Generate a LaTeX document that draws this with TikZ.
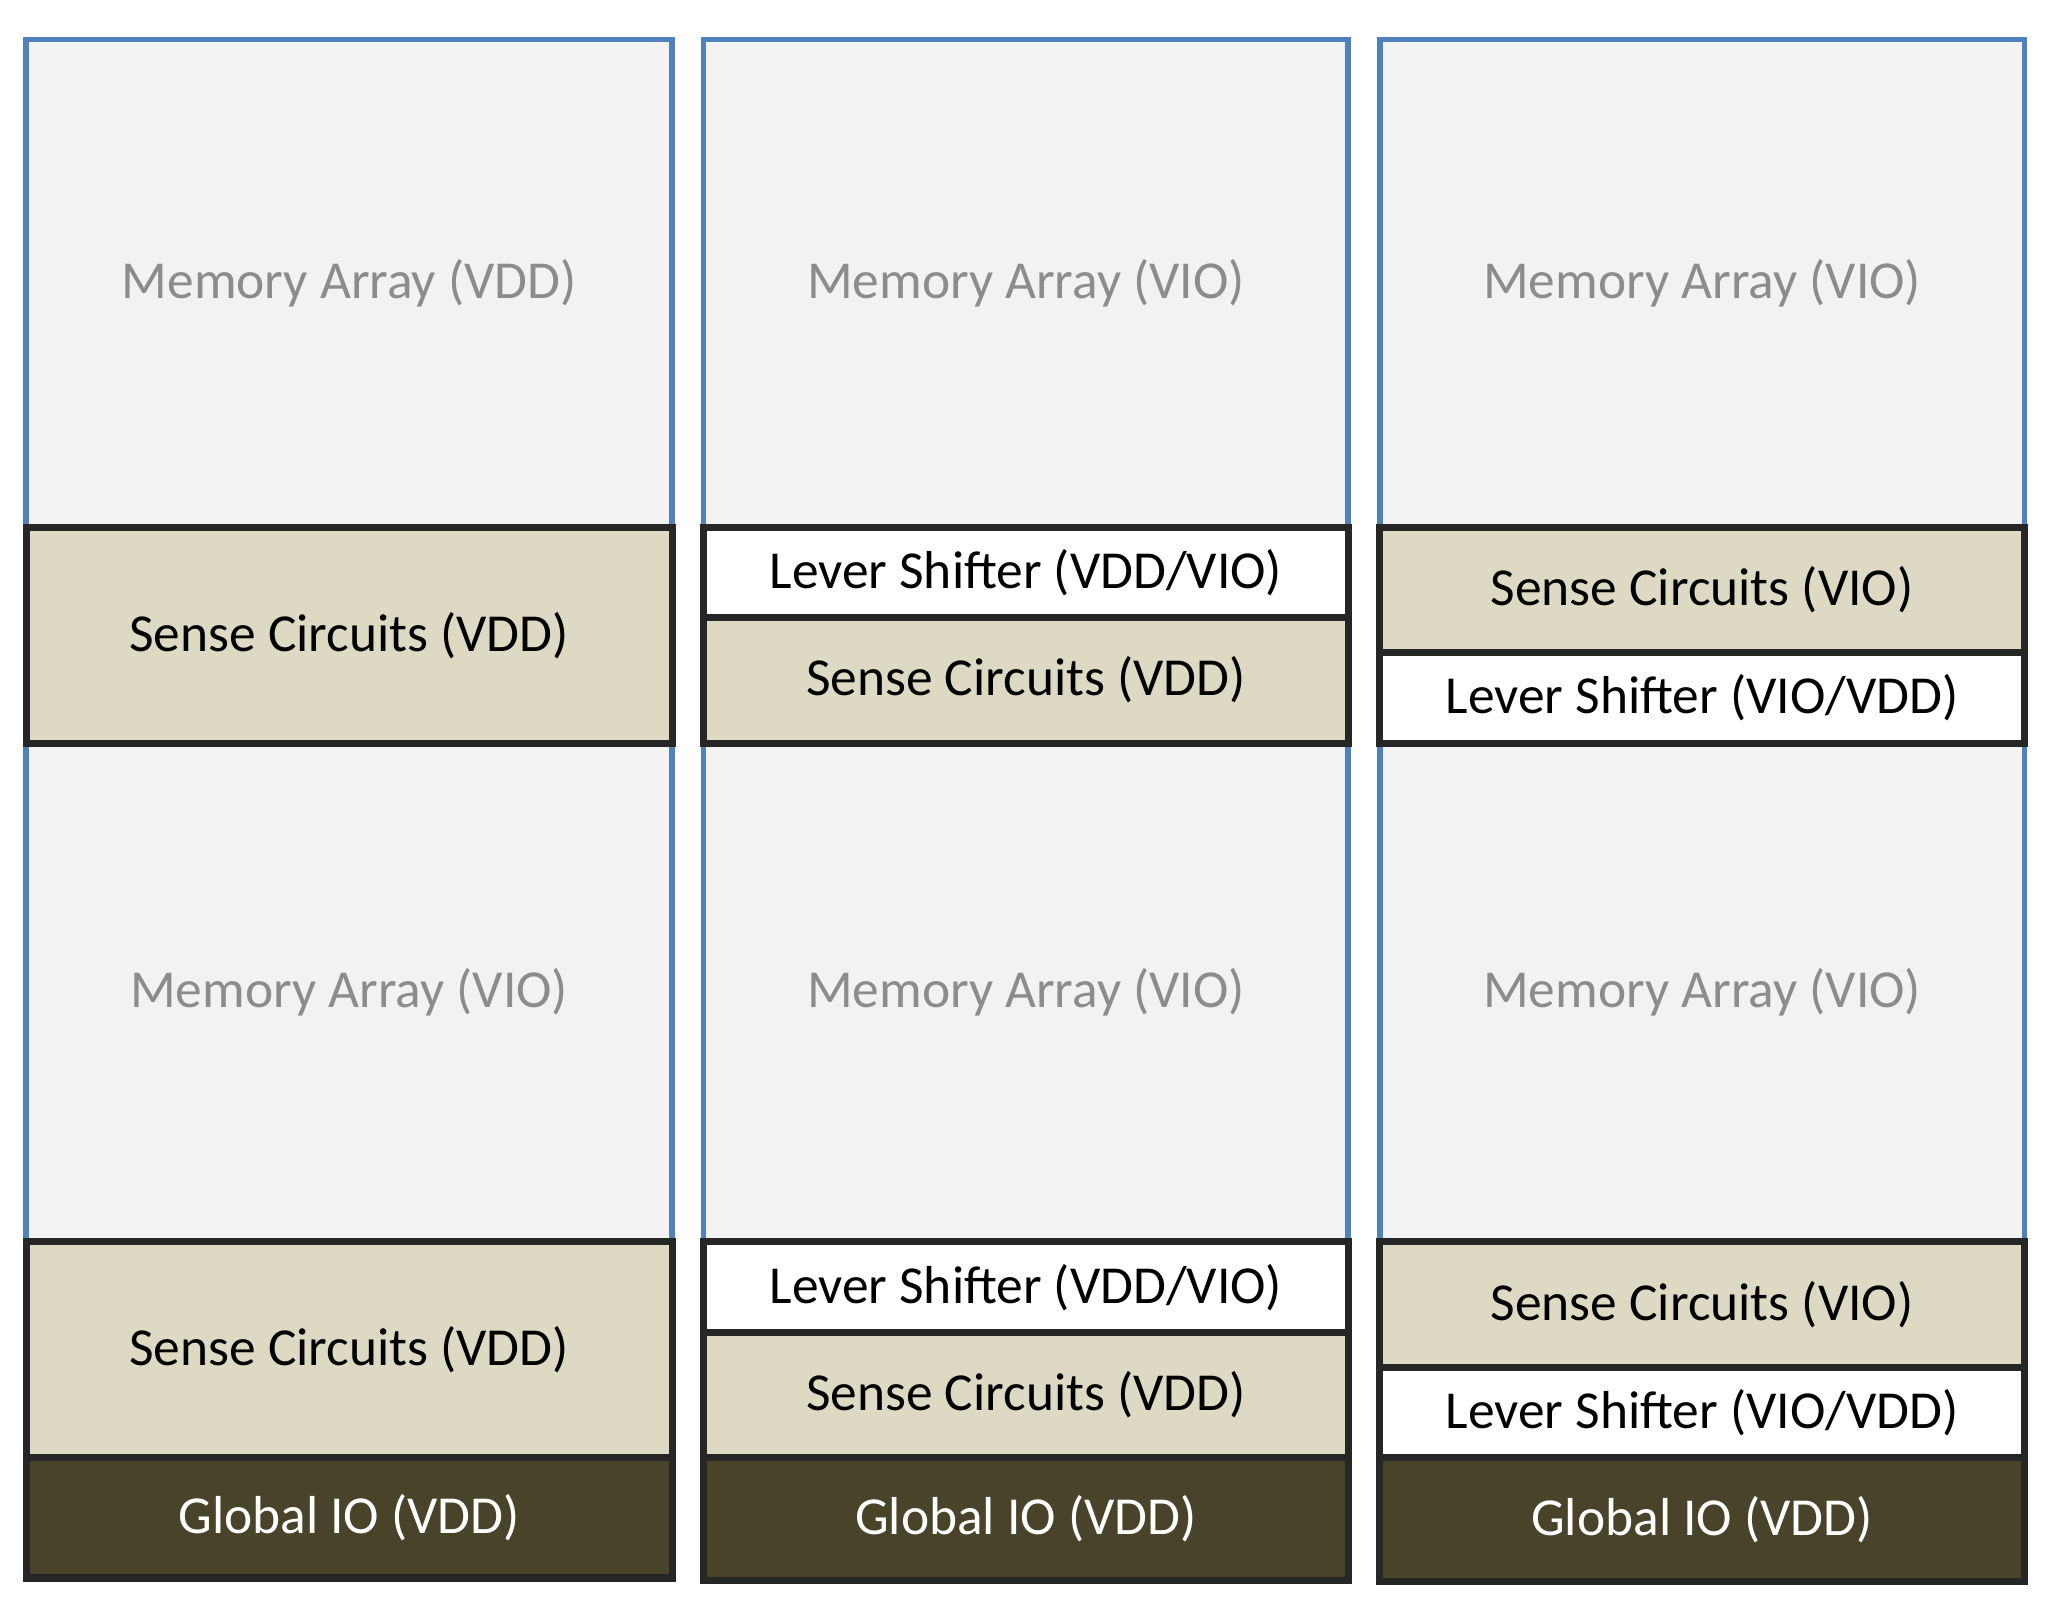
\documentclass[tikz,border=0pt]{standalone}
\usepackage{fontspec}
\setmainfont{Carlito}
\definecolor{memb}{HTML}{4F81BD}
\definecolor{memf}{HTML}{F2F2F2}
\definecolor{memt}{HTML}{8C8C8C}
\definecolor{sensef}{HTML}{DDD9C3}
\definecolor{giof}{HTML}{494429}
\begin{document}
\begin{tikzpicture}[x=0.013128cm,y=-0.013128cm,
  mem/.style={draw=memb,fill=memf,line width=1.6pt},
  sense/.style={draw=black!85,fill=sensef,line width=2pt},
  ls/.style={draw=black!85,fill=white,line width=2pt},
  gio/.style={draw=black!85,fill=giof,line width=2pt},
  lbl/.style={font=\fontsize{15.2}{17}\selectfont},
  meml/.style={lbl,text=memt},
  giol/.style={lbl,text=white}]
\useasboundingbox (0,0) rectangle (1560,1223.3);
\newcommand\blk[6]{\draw[#1] (#2,#3) rectangle (#4,#5) node[pos=.5,#6]}
% column 1
\blk{mem}{20}{30}{512}{402}{meml}(m11){Memory Array (VDD)};
\blk{mem}{20}{566}{512}{946}{meml}(m12){Memory Array (VIO)};
\blk{sense}{20}{402}{512}{566}{lbl}(s11){Sense Circuits (VDD)};
\blk{sense}{20}{946}{512}{1110}{lbl}(s12){Sense Circuits (VDD)};
\blk{gio}{20}{1110}{512}{1202}{giol}(g1){Global IO (VDD)};
% column 2
\blk{mem}{536}{30}{1027}{402}{meml}(m21){Memory Array (VIO)};
\blk{mem}{536}{566}{1027}{946}{meml}(m22){Memory Array (VIO)};
\blk{ls}{536}{402}{1027}{470}{lbl}(l21){Lever Shifter (VDD/VIO)};
\blk{sense}{536}{470}{1027}{566}{lbl}(s21){Sense Circuits (VDD)};
\blk{ls}{536}{946}{1027}{1015}{lbl}(l22){Lever Shifter (VDD/VIO)};
\blk{sense}{536}{1015}{1027}{1110}{lbl}(s22){Sense Circuits (VDD)};
\blk{gio}{536}{1110}{1027}{1204}{giol}(g2){Global IO (VDD)};
% column 3
\blk{mem}{1051}{30}{1542}{402}{meml}(m31){Memory Array (VIO)};
\blk{mem}{1051}{566}{1542}{946}{meml}(m32){Memory Array (VIO)};
\blk{sense}{1051}{402}{1542}{497}{lbl}(s31){Sense Circuits (VIO)};
\blk{ls}{1051}{497}{1542}{566}{lbl}(l31){Lever Shifter (VIO/VDD)};
\blk{sense}{1051}{946}{1542}{1042}{lbl}(s32){Sense Circuits (VIO)};
\blk{ls}{1051}{1042}{1542}{1110}{lbl}(l32){Lever Shifter (VIO/VDD)};
\blk{gio}{1051}{1110}{1542}{1205}{giol}(g3){Global IO (VDD)};
\end{tikzpicture}
\end{document}
